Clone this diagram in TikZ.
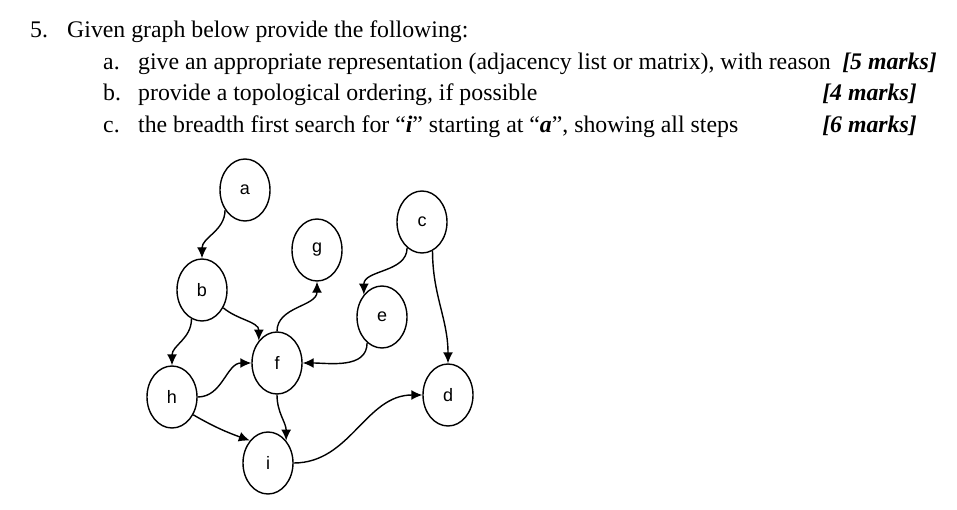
\documentclass[tikz,border=0pt]{standalone}
\usepackage{fontspec}
\setmainfont{Liberation Serif}
\newfontfamily\arialf{Liberation Sans}
\usetikzlibrary{arrows.meta,shapes.geometric}
\begin{document}
\begin{tikzpicture}[x=1pt,y=-1pt,
  vtx/.style={draw,line width=1.4pt,ellipse,minimum width=50pt,minimum height=62pt,inner sep=0pt,font=\arialf\fontsize{18}{20}\selectfont},
  arc/.style={line width=1.4pt,-{Latex[length=11pt,width=10pt]}},
  txt/.style={anchor=base west,inner sep=0pt,font=\fontsize{23.8}{28}\selectfont},
  rtxt/.style={anchor=base east,inner sep=0pt,font=\fontsize{23.8}{28}\selectfont\bfseries\itshape}]
\useasboundingbox (0,0) rectangle (957,510);
\node[txt] (n5) at (30,38) {5.};
\node[txt] (t1) at (67,38) {Given graph below provide the following:};
\node[txt] (la) at (103,70) {a.};
\node[txt] (ta) at (138,70) {give an appropriate representation (adjacency list or matrix), with reason};
\node[rtxt] (ma) at (937,70) {[5 marks]};
\node[txt] (lb) at (103,101) {b.};
\node[txt] (tb) at (138,101) {provide a topological ordering, if possible};
\node[rtxt] (mb) at (917,101) {[4 marks]};
\node[txt] (lc) at (103,133) {c.};
\node[txt] (tc) at (138,133) {the breadth first search for “\textbf{\textit{i}}” starting at “\textbf{\textit{a}}”, showing all steps};
\node[rtxt] (mc) at (917,133) {[6 marks]};

\node[vtx] (a) at (245,190) {a};
\node[vtx] (g) at (317,250) {g};
\node[vtx] (c) at (422,222) {c};
\node[vtx] (b) at (202,290) {b};
\node[vtx] (e) at (382,317) {e};
\node[vtx] (f) at (277,363) {f};
\node[vtx] (h) at (172,397) {h};
\node[vtx] (d) at (448,395) {d};
\node[vtx] (i) at (268,463) {i};

\draw[arc] (a.225) to[out=-90,in=90] (b.north);
\draw[arc] (b.250) to[out=-90,in=90] (h.north);
\draw[arc] (b.-40) to[out=-40,in=90] (f.north west);
\draw[arc] (h.east) to[out=0,in=180] (f.west);
\draw[arc] (h.-40) to[out=-30,in=160] (i.north west);
\draw[arc] (f.south) to[out=-90,in=90] (i.north east);
\draw[arc] (f.north) to[out=90,in=-90] (g.south);
\draw[arc] (e.-120) to[out=-90,in=0] (f.east);
\draw[arc] (c.240) to[out=-90,in=90] (e.north west);
\draw[arc] (c.-70) to[out=-90,in=90] (d.north);
\draw[arc] (i.east) to[out=0,in=180] (d.west);
\end{tikzpicture}
\end{document}
